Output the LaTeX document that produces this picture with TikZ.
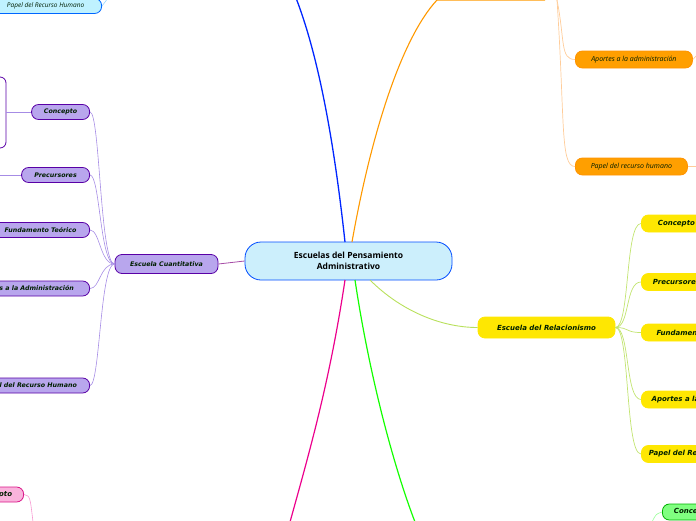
\documentclass[tikz,border=0pt]{standalone}
\usepackage{fontspec}
\setmainfont{DejaVu Sans}
\newfontfamily\osans{Open Sans}
\begin{document}
\begin{tikzpicture}[x=1pt,y=-1pt,
 box/.style={rounded corners=7pt,draw,line width=0.8pt,inner sep=0pt,minimum height=15pt,font=\fontsize{6.3}{7}\selectfont\bfseries\itshape,text=black!70!green!40!black},
 pbox/.style={box,fill=violet!40!blue!35!white,draw=violet!70!blue},
 ybox/.style={box,fill=yellow!90!orange,draw=yellow!90!orange,minimum height=17pt,font=\fontsize{7}{8}\selectfont\bfseries\itshape},
 obox/.style={box,fill=orange!75!yellow,draw=orange!85!yellow,minimum height=17pt,font=\osans\fontsize{7}{8}\selectfont\itshape},
 plink/.style={violet!45!blue!45!white,line width=0.6pt},
 ylink/.style={yellow!60!green!60!white,line width=0.7pt},
 olink/.style={orange!40!white,line width=0.7pt}]
\useasboundingbox (0,0) rectangle (696,520);
\clip (0,0) rectangle (696,520);
% center
\node[draw=blue!70!cyan,line width=0.8pt,fill=cyan!20,rounded corners=16pt,minimum width=207pt,minimum height=38pt,align=center,font=\osans\bfseries\fontsize{8.5}{10.5}\selectfont] (c) at (348.5,261) {Escuelas del Pensamiento\\Administrativo};
% main branches
\coordinate (bt) at (296,-2);
\coordinate (ot) at (437,0);
\coordinate (gb) at (415,522);
\coordinate (mb) at (290,522);
\draw[blue!85!cyan,line width=1.3pt] (345,242) .. controls (335,150) and (320,60) .. (bt);
\draw[orange!80!yellow,line width=1.1pt] (352,242) .. controls (370,140) and (400,40) .. (ot) -- (545,0);
\draw[green!90!lime,line width=1.2pt] (355,280) .. controls (370,380) and (395,470) .. (gb);
\draw[magenta,line width=1.2pt] (345,280) .. controls (330,380) and (310,450) .. (mb);
% purple
\node[pbox,minimum width=103pt,minimum height=19pt] (q) at (166.5,264) {Escuela Cuantitativa};
\draw[violet!70!white,line width=0.8pt] (c.west) -- (q.east);
\node[pbox,anchor=east,minimum width=58pt] (q1) at (90,112) {Concepto};
\node[pbox,anchor=east,minimum width=68pt] (q2) at (90,175) {Precursores};
\node[pbox,anchor=east,minimum width=98pt] (q3) at (90,230) {Fundamento Teórico};
\node[pbox,anchor=east,minimum width=130pt] (q4) at (90,288.5) {Aportes a la Administración};
\node[pbox,anchor=east,minimum width=120pt] (q5) at (90,385.5) {Papel del Recurso Humano};
\foreach \n in {q1,q2,q3,q4,q5}
  \draw[plink] (q.west) .. controls (100,264) and (100,0|-\n.east) .. (\n.east);
\draw[violet!70!blue,line width=0.8pt,rounded corners=6pt] (-20,77) rectangle (6,148);
\coordinate (q1l) at (6,112);
\coordinate (q2l) at (0,175);
\draw[plink] (q1.west) -- (q1l);
\draw[plink] (q2.west) -- (q2l);
% top-left blue
\node[box,fill=blue!20!cyan!25,draw=blue!60!cyan,anchor=east,minimum width=120pt,font=\osans\fontsize{6.5}{7}\selectfont\itshape] (b1) at (102,6) {\hspace{8pt}Papel del Recurso Humano};
\coordinate (b1e) at (108,-2);
\draw[blue!40!cyan!40,line width=0.6pt] (b1.east) -- (b1e);
% orange
\node[obox,anchor=west,minimum width=117pt] (o1) at (575,59.5) {Aportes a la administración};
\node[obox,anchor=west,minimum width=112pt] (o2) at (575,166.5) {Papel del recurso humano};
\coordinate (os) at (557,0);
\coordinate (o1e) at (700,52);
\coordinate (o2e) at (700,166.5);
\draw[olink] (os) .. controls (565,40) and (560,59.5) .. (o1.west);
\draw[olink] (os) .. controls (565,120) and (560,166.5) .. (o2.west);
\draw[olink] (o1.east) -- (o1e);
\draw[olink] (o2.east) -- (o2e);
% yellow
\node[ybox,minimum width=137pt,minimum height=21pt] (y) at (546.5,327.5) {Escuela del Relacionismo};
\draw[yellow!60!green!70!white,line width=0.9pt] (370,280) .. controls (400,310) and (440,327.5) .. (y.west);
\node[ybox,anchor=west,minimum width=70pt] (y1) at (641,223.5) {Concepto\hspace{20pt}};
\node[ybox,anchor=west,minimum width=70pt] (y2) at (641,282) {Precursores\hspace{5pt}};
\node[ybox,anchor=west,minimum width=110pt] (y3) at (641,332.5) {Fundamento Teórico};
\node[ybox,anchor=west,minimum width=130pt] (y4) at (641,399.5) {Aportes a la Administración};
\node[ybox,anchor=west,minimum width=120pt] (y5) at (641,454) {Papel del Recurso Humano};
\foreach \n in {y1,y2,y3,y4,y5}
  \draw[ylink] (y.east) .. controls (630,327.5) and (625,0|-\n.west) .. (\n.west);
% green
\node[box,fill=green!50!white,draw=green!70!black,anchor=west,minimum width=60pt,minimum height=16pt,font=\fontsize{7}{8}\selectfont\bfseries\itshape] (g1) at (662,512) {Concepto};
\coordinate (gs) at (652,522);
\draw[green!40!white,line width=0.6pt] (gs) .. controls (656,514) .. (g1.west);
% magenta
\node[box,fill=magenta!30!white,draw=magenta!80!violet,anchor=east,minimum width=60pt,minimum height=15pt,font=\fontsize{7}{8}\selectfont\bfseries\itshape] (m1) at (24,494.5) {Concepto};
\coordinate (ms) at (33,522);
\draw[magenta!40!white,line width=0.6pt] (m1.east) .. controls (30,496) .. (ms);
\end{tikzpicture}
\end{document}
